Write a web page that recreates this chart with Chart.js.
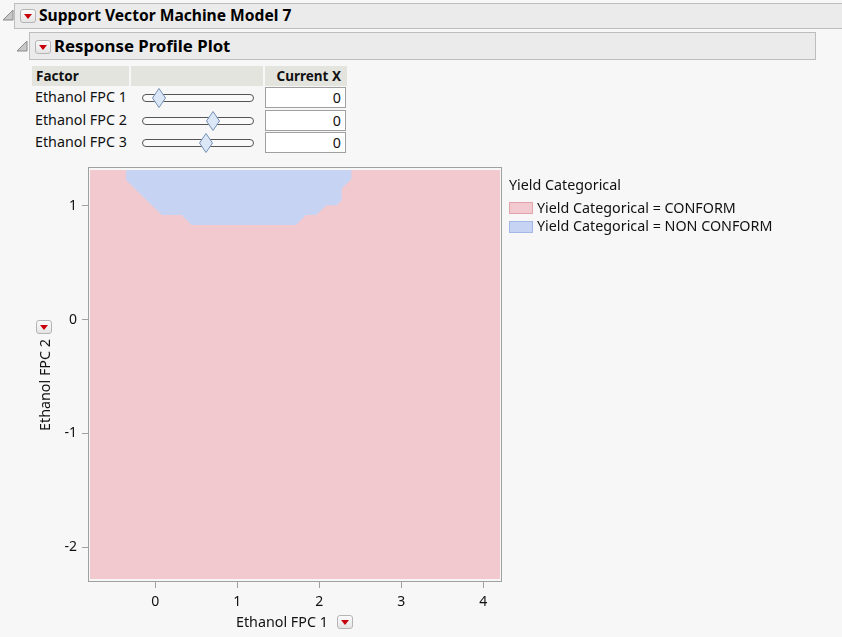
<!DOCTYPE html>
<html><head><meta charset="utf-8">
<script src="https://cdn.jsdelivr.net/npm/chart.js@4.4.1/dist/chart.umd.min.js"></script>
<style>
body{margin:0;width:842px;height:637px;background:#f7f7f7;font-family:"Noto Sans",sans-serif;color:#111;position:relative;overflow:hidden}
.a{position:absolute}
.bar{position:absolute;background:#ebebeb;border:1px solid #bdbdbd;box-sizing:border-box}
.htxt{position:absolute;font-weight:bold;line-height:20px;white-space:nowrap;color:#000}
.btn{position:absolute;width:16px;height:14px;box-sizing:border-box;border:1px solid #b5b5b5;border-radius:3px;background:linear-gradient(#fbfbfb,#e4e4e4)}
.btn:after{content:"";position:absolute;left:3px;top:4px;border-left:4px solid transparent;border-right:4px solid transparent;border-top:5px solid #c8000a}
.cell{position:absolute;background:#e4e4df;font-weight:bold;font-size:13.5px;line-height:20px;height:20px;box-sizing:border-box}
.lab{position:absolute;font-size:14.3px;line-height:18px;white-space:nowrap}
.track{position:absolute;left:142px;width:112px;height:8px;box-sizing:border-box;border:1px solid #555;border-radius:4px;background:#fafafa}
.inp{position:absolute;left:265px;width:81px;height:21px;box-sizing:border-box;border:1px solid #a0a0a0;background:#fff;font-size:14.3px;line-height:19px;text-align:right;padding-right:4px}
.sw{position:absolute;left:509px;width:24px;height:12px;box-sizing:border-box}
</style></head>
<body>
<div class="bar" style="left:14px;top:3px;width:840px;height:26px"></div>
<svg class="a" style="left:2px;top:9px" width="12" height="12"><polygon points="1,11 11,11 11,1" fill="#c8c8c8" stroke="#8a8a8a" stroke-width="1"/></svg>
<div class="btn" style="left:20px;top:9px"></div>
<div class="htxt" style="left:39px;top:5px;font-size:15.6px">Support Vector Machine Model 7</div>

<div class="bar" style="left:29px;top:32px;width:787px;height:28px"></div>
<svg class="a" style="left:16px;top:40px" width="12" height="12"><polygon points="1,11 11,11 11,1" fill="#c8c8c8" stroke="#8a8a8a" stroke-width="1"/></svg>
<div class="btn" style="left:35px;top:40px"></div>
<div class="htxt" style="left:54px;top:36px;font-size:16.8px">Response Profile Plot</div>

<div class="cell" style="left:32px;top:66px;width:97px;padding-left:4px">Factor</div>
<div class="cell" style="left:131px;top:66px;width:132px"></div>
<div class="cell" style="left:265px;top:66px;width:82px;text-align:right;padding-right:6px">Current X</div>

<div id="rows"></div>

<div class="a" style="left:0;top:160px;width:520px;height:477px"><canvas id="c" width="520" height="477" style="display:block"></canvas></div>

<div class="lab" style="left:236px;top:613px">Ethanol FPC 1</div>
<div class="btn" style="left:337px;top:615px"></div>
<div class="lab" style="left:45px;top:385px;transform:translate(-50%,-50%) rotate(-90deg)">Ethanol FPC 2</div>
<div class="btn" style="left:36px;top:320px"></div>

<div class="lab" style="left:509px;top:176px">Yield Categorical</div>
<div class="sw" style="top:202px;background:#f2c9ce;border:1px solid #e3a3ad"></div>
<div class="lab" style="left:537px;top:199px">Yield Categorical = CONFORM</div>
<div class="sw" style="top:221px;background:#c6d3f3;border:1px solid #a5b7e6"></div>
<div class="lab" style="left:537px;top:217px">Yield Categorical = NON CONFORM</div>

<script>
// ---- data ----
const factorNames = ["Ethanol FPC 1", "Ethanol FPC 2", "Ethanol FPC 3"];
const factorValues = [0, 0, 0];
const sliderPos = [0.15, 0.63, 0.57];
const categories = ["Yield Categorical = CONFORM", "Yield Categorical = NON CONFORM"];
const xTicks = [0, 1, 2, 3, 4];
const yTicks = [-2, -1, 0, 1];
const gridTop = 1.317;
const conformX = [-0.796, 4.204];
const conformY = [-2.281, -2.281];
const nonConformX = [-0.357, -0.357, 0.078, 0.322, 0.444, 1.716, 1.838, 1.960, 2.090, 2.212, 2.273, 2.273, 2.395, 2.395];
const nonConformY = [1.317, 1.229, 0.921, 0.921, 0.833, 0.833, 0.921, 0.921, 1.006, 1.006, 1.050, 1.152, 1.240, 1.317];

// ---- factor rows ----
const rows = document.getElementById('rows');
const rowTops = [87, 110, 132];
factorNames.forEach((n, i) => {
  const t = rowTops[i];
  rows.insertAdjacentHTML('beforeend',
    `<div class="lab" style="left:35px;top:${t+1}px">${n}</div>
     <div class="track" style="top:${t+7}px"></div>
     <svg class="a" style="left:${142 + sliderPos[i]*112 - 7}px;top:${t+1}px" width="14" height="20"><polygon points="7,0.5 13.5,10 7,19.5 0.5,10" fill="#dbe6f6" stroke="#7590b5" stroke-width="1"/></svg>
     <div class="inp" style="top:${t}px">${factorValues[i]}</div>`);
});

const toPts = (xs, ys) => xs.map((x, i) => ({x: x, y: ys[i]}));
const frame = {
  id: 'frame',
  afterDraw(ch) {
    const a = ch.chartArea, c = ch.ctx;
    c.save(); c.strokeStyle = '#a0a0a0'; c.lineWidth = 1;
    c.strokeRect(a.left + 0.5, a.top + 0.5, a.right - a.left - 1, a.bottom - a.top - 1);
    c.restore();
  }
};
const font = {family: 'Noto Sans', size: 14};
new Chart(document.getElementById('c'), {
  type: 'scatter',
  data: {
    datasets: [
      {label: categories[0], data: toPts(conformX, conformY), showLine: true, pointRadius: 0, borderWidth: 0,
       backgroundColor: '#f2c9ce', fill: {value: gridTop}, order: 2},
      {label: categories[1], data: toPts(nonConformX, nonConformY), showLine: true, pointRadius: 0, borderWidth: 0,
       backgroundColor: '#c6d3f3', fill: {value: gridTop}, order: 1}
    ]
  },
  options: {
    responsive: false, animation: false,
    layout: {padding: {top: 7, right: 18, left: 0, bottom: 0}},
    plugins: {legend: {display: false}, tooltip: {enabled: false}},
    scales: {
      x: {type: 'linear', min: -0.821, max: 4.228,
          afterBuildTicks: s => { s.ticks = xTicks.map(v => ({value: v})); },
          afterFit: s => { s.height = 55; s.paddingLeft = 0; s.paddingRight = 0; },
          grid: {drawOnChartArea: false, drawTicks: true, tickLength: 6, color: '#a0a0a0'},
          border: {display: false},
          ticks: {font: font, color: '#111', padding: 6, maxRotation: 0}},
      y: {type: 'linear', min: -2.307, max: 1.343,
          afterBuildTicks: s => { s.ticks = yTicks.map(v => ({value: v})); },
          afterFit: s => { s.width = 88; s.paddingTop = 0; s.paddingBottom = 0; },
          grid: {drawOnChartArea: false, drawTicks: true, tickLength: 6, color: '#a0a0a0'},
          border: {display: false},
          ticks: {font: font, color: '#111', padding: 5}}
    }
  },
  plugins: [frame]
});
</script>
</body></html>
